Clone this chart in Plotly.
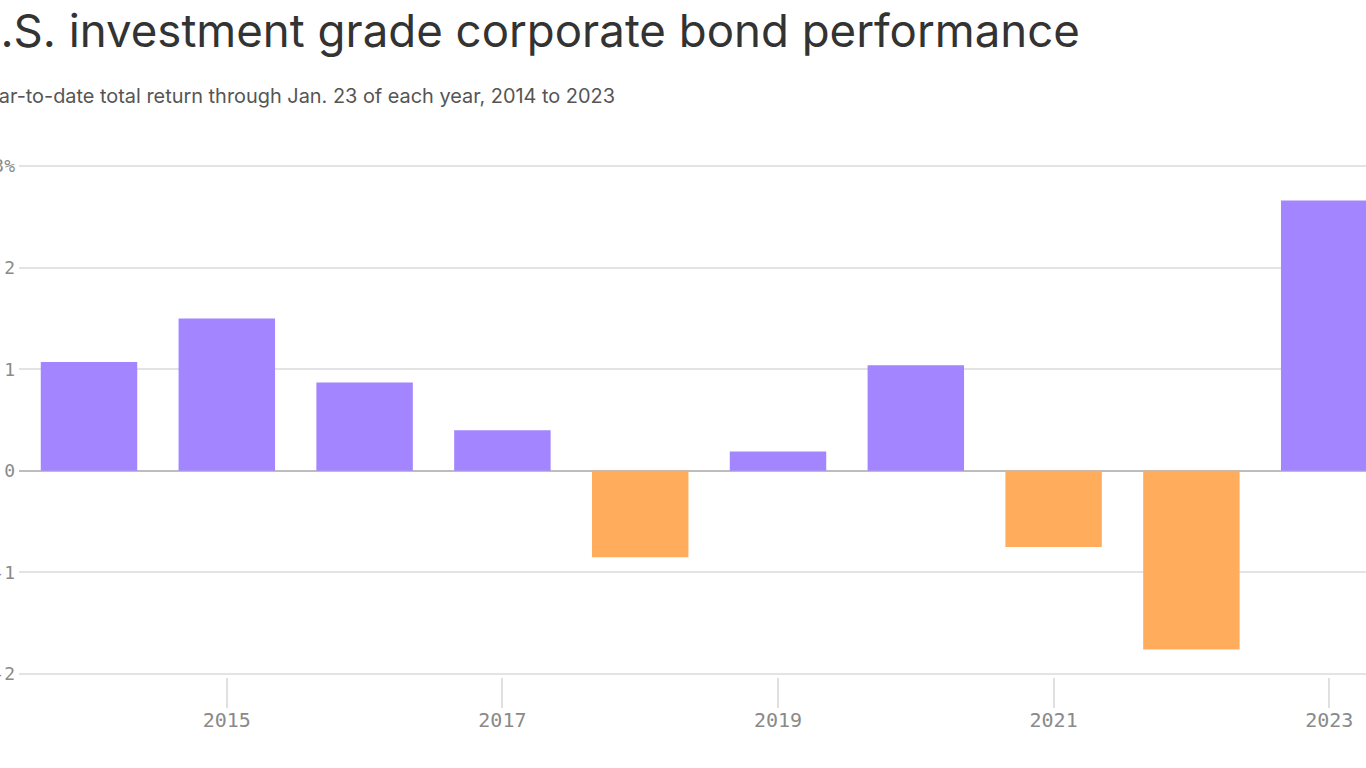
import plotly.graph_objects as go

years = [2014, 2015, 2016, 2017, 2018, 2019, 2020, 2021, 2022, 2023]
returns = [1.07, 1.50, 0.87, 0.40, -0.85, 0.19, 1.04, -0.75, -1.76, 2.66]
y_tickvals = [-2, -1, 0, 1, 2, 3]
y_ticktext = ["-2", "-1", "0", "1", "2", "3%"]
x_tickvals = [2015, 2017, 2019, 2021, 2023]

POS = "#a385ff"
NEG = "#ffad5c"
colors = [POS if v >= 0 else NEG for v in returns]

W, H = 1366, 768
L, R, T, B = 19, 0, 163, 91
pw = W - L - R
ph = H - T - B

def px(xp):
    return (xp - L) / pw

def py(yp):
    return (H - B - yp) / ph

fig = go.Figure()
fig.add_trace(go.Bar(
    x=years, y=returns, marker=dict(color=colors, line=dict(width=0)),
    width=0.7, hoverinfo="x+y",
))

fig.update_layout(
    width=W, height=H,
    margin=dict(l=L, r=R, t=T, b=B, pad=0),
    paper_bgcolor="white", plot_bgcolor="white",
    showlegend=False,
    xaxis=dict(
        range=[2013.492, 2023.267],
        tickvals=x_tickvals,
        ticktext=[str(v) for v in x_tickvals],
        ticks="outside", ticklen=30, tickwidth=2, tickcolor="#e0e0e0",
        ticklabelstandoff=-5,
        showgrid=False, zeroline=False, showline=False,
        tickfont=dict(family="DejaVu Sans Mono", size=20, color="#8a8a8a"),
        automargin=False, fixedrange=True,
    ),
    yaxis=dict(
        range=[-2.03, 3.03],
        tickvals=y_tickvals, ticktext=y_ticktext,
        showgrid=True, gridcolor="#e3e3e3", gridwidth=1.5,
        zeroline=True, zerolinecolor="#bdbdbd", zerolinewidth=2,
        showline=False, ticks="",
        ticklabelstandoff=3,
        tickfont=dict(family="DejaVu Sans Mono", size=18, color="#8a8a8a"),
        automargin=False, fixedrange=True,
    ),
    annotations=[
        dict(text="U.S. investment grade corporate bond performance",
             xref="paper", yref="paper", x=px(-34), y=py(30),
             xanchor="left", yanchor="middle", showarrow=False,
             font=dict(family="Inter", size=45.6, color="#333333")),
        dict(text="Year-to-date total return through Jan. 23 of each year, 2014 to 2023",
             xref="paper", yref="paper", x=px(-27), y=py(96),
             xanchor="left", yanchor="middle", showarrow=False,
             font=dict(family="Inter", size=19.9, color="#555555")),
    ],
)

fig.write_html("out.html")
